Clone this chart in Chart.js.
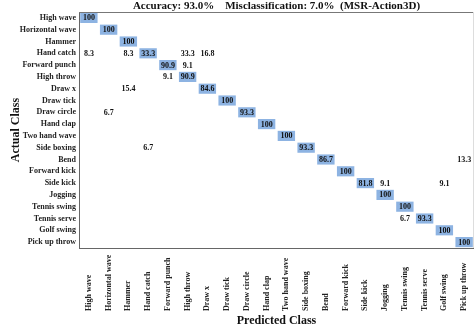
<!DOCTYPE html>
<html>
<head>
<meta charset="utf-8">
<script src="https://cdn.jsdelivr.net/npm/chart.js@4.4.1/dist/chart.umd.min.js"></script>
<style>
  body { margin: 0; background: #fff; }
  #wrap { width: 474px; height: 330px; }
</style>
</head>
<body>
<div id="wrap"><canvas id="cm"></canvas></div>
<script>
var classes = ['High wave', 'Horizontal wave', 'Hammer', 'Hand catch', 'Forward punch',
  'High throw', 'Draw x', 'Draw tick', 'Draw circle', 'Hand clap', 'Two hand wave',
  'Side boxing', 'Bend', 'Forward kick', 'Side kick', 'Jogging', 'Tennis swing',
  'Tennis serve', 'Golf swing', 'Pick up throw'];

// diagonal (correct) percentages, one per class
var diagonal = [100, 100, 100, 33.3, 90.9, 90.9, 84.6, 100, 93.3, 100,
  100, 93.3, 86.7, 100, 81.8, 100, 100, 93.3, 100, 100];

// off-diagonal confusions: actual row, predicted column, percentage
var offRows   = [3, 3, 3, 3, 4, 5, 6, 8, 11, 12, 14, 14, 17];
var offCols   = [0, 2, 5, 6, 5, 4, 2, 1, 3, 19, 15, 18, 16];
var offValues = [8.3, 8.3, 33.3, 16.8, 9.1, 9.1, 15.4, 6.7, 6.7, 13.3, 9.1, 9.1, 6.7];

var serif = "'Liberation Serif', 'Times New Roman', serif";

var cellText = {
  id: 'cellText',
  afterDatasetsDraw: function(chart) {
    var ctx = chart.ctx;
    var xs = chart.scales.x, ys = chart.scales.y;
    ctx.save();
    ctx.font = 'bold 8px ' + serif;
    ctx.fillStyle = '#111';
    ctx.textAlign = 'center';
    ctx.textBaseline = 'middle';
    for (var i = 0; i < diagonal.length; i++) {
      ctx.fillText(String(diagonal[i]), xs.getPixelForValue(i), ys.getPixelForValue(i) + 0.5);
    }
    for (var k = 0; k < offValues.length; k++) {
      ctx.fillText(String(offValues[k]), xs.getPixelForValue(offCols[k]), ys.getPixelForValue(offRows[k]) + 0.5);
    }
    ctx.restore();
  }
};

var frame = {
  id: 'frame',
  afterDraw: function(chart) {
    var ctx = chart.ctx, a = chart.chartArea;
    var xs = chart.scales.x;
    ctx.save();
    ctx.lineWidth = 1;
    ctx.strokeStyle = '#777';
    ctx.beginPath();
    ctx.moveTo(a.left, a.top + 0.5);
    ctx.lineTo(a.right, a.top + 0.5);
    ctx.stroke();
    ctx.strokeStyle = '#ddd';
    ctx.beginPath();
    ctx.moveTo(a.right - 0.5, a.top);
    ctx.lineTo(a.right - 0.5, a.bottom);
    ctx.stroke();
    // predicted class labels, rotated and aligned at the bottom
    ctx.font = 'bold 8px ' + serif;
    ctx.fillStyle = '#222';
    ctx.textAlign = 'left';
    ctx.textBaseline = 'middle';
    for (var i = 0; i < classes.length; i++) {
      ctx.save();
      ctx.translate(xs.getPixelForValue(i), 311);
      ctx.rotate(-Math.PI / 2);
      ctx.fillText(classes[i], 0, 0);
      ctx.restore();
    }
    ctx.restore();
  }
};

new Chart(document.getElementById('cm'), {
  type: 'bar',
  data: {
    labels: classes,
    datasets: [{
      data: diagonal.map(function(v, i) { return [i - 0.44, i + 0.44]; }),
      backgroundColor: '#8db3e2',
      borderWidth: 0,
      barPercentage: 0.86,
      categoryPercentage: 1
    }]
  },
  options: {
    indexAxis: 'y',
    responsive: true,
    maintainAspectRatio: false,
    animation: false,
    layout: { padding: 0 },
    plugins: {
      legend: { display: false },
      tooltip: { enabled: false },
      title: {
        display: true,
        fullSize: false,
        text: 'Accuracy: 93.0%    Misclassification: 7.0%  (MSR-Action3D)',
        color: '#111',
        font: { family: serif, size: 11, weight: 'bold', lineHeight: 1 },
        padding: { top: 1, bottom: 0 }
      }
    },
    scales: {
      x: {
        type: 'linear',
        min: -0.5,
        max: 19.5,
        grid: { display: false, drawTicks: false },
        border: { color: '#666', width: 1 },
        ticks: { display: false },
        title: {
          display: true,
          text: 'Predicted Class',
          color: '#111',
          font: { family: serif, size: 12, weight: 'bold' },
          padding: { top: 0, bottom: 2 }
        },
        afterFit: function(s) { s.height = 82; }
      },
      y: {
        type: 'category',
        grid: { display: false, drawTicks: false },
        border: { color: '#666', width: 1 },
        ticks: {
          color: '#222',
          padding: 3,
          autoSkip: false,
          font: { family: serif, size: 8, weight: 'bold' }
        },
        title: {
          display: true,
          text: 'Actual Class',
          color: '#111',
          font: { family: serif, size: 12, weight: 'bold' },
          padding: { top: 9, bottom: 0 }
        },
        afterFit: function(s) { s.width = 79; }
      }
    }
  },
  plugins: [cellText, frame]
});
</script>
</body>
</html>
